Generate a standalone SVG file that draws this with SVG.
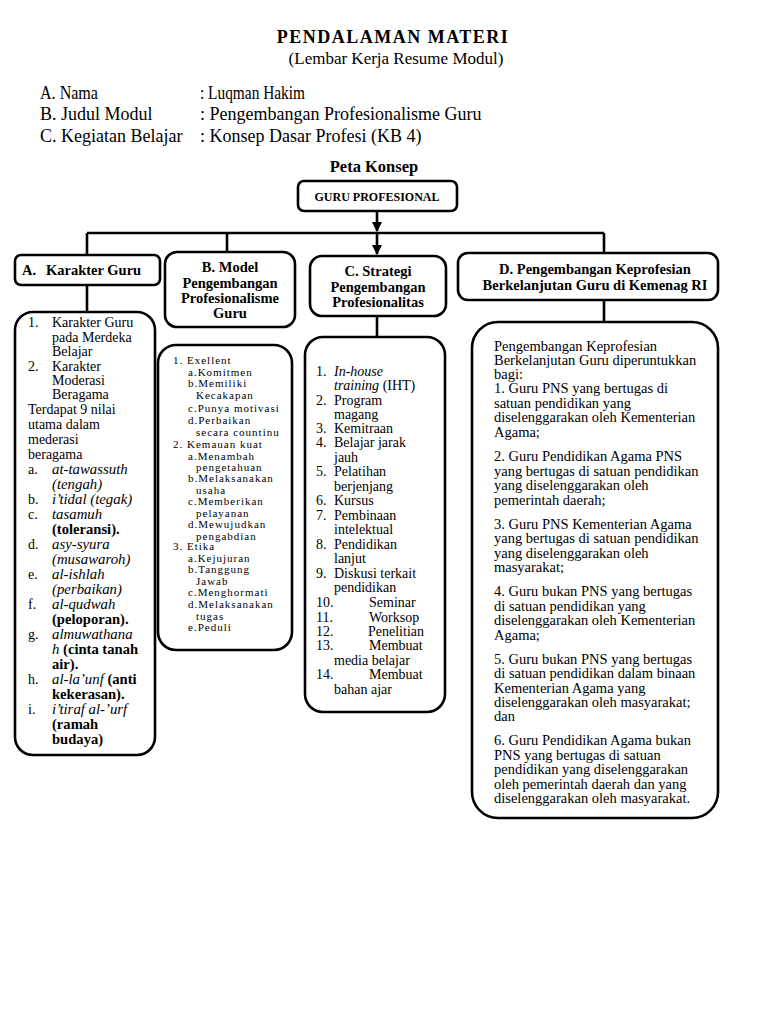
<svg xmlns="http://www.w3.org/2000/svg" width="768" height="1024" viewBox="0 0 768 1024">
<defs>
<marker id="arr" viewBox="0 0 10 10" refX="9" refY="5" markerWidth="4" markerHeight="4" orient="auto">
<path d="M0,0 L10,5 L0,10 z" fill="#000"/>
</marker>
<style>
.bg{fill:#fff}
.box{fill:#fff;stroke:#000;stroke-width:2.6}
.line{stroke:#000;stroke-width:2.6;fill:none}
.hdr{font-family:"Liberation Serif",serif;fill:#000}
.hb{font-family:"Liberation Serif",serif;font-weight:bold;fill:#000;font-size:14.5px}
.ta{font-family:"Liberation Serif",serif;font-size:14px;fill:#000}
.tb{font-family:"Liberation Serif",serif;font-size:11px;fill:#000;letter-spacing:1px}
.tc{font-family:"Liberation Serif",serif;font-size:14px;fill:#000}
.td{font-family:"Liberation Serif",serif;font-size:14.5px;fill:#000}
.i{font-style:italic;font-size:14.8px}
.b{font-weight:bold;font-size:14.6px}
.ci{font-style:italic}
</style>
</defs>
<rect class="bg" x="0" y="0" width="768" height="1024"/>

<g id="header">
<text class="hdr" x="393" y="43" font-size="18" font-weight="bold" text-anchor="middle" letter-spacing="1.5">PENDALAMAN MATERI</text>
<text class="hdr" x="396" y="64" font-size="17" text-anchor="middle">(Lembar Kerja Resume Modul)</text>
<text class="hdr" x="40" y="99" font-size="18" textLength="58" lengthAdjust="spacingAndGlyphs">A. Nama</text>
<text class="hdr" x="200" y="99" font-size="18" textLength="105" lengthAdjust="spacingAndGlyphs">: Luqman Hakim</text>
<text class="hdr" x="40" y="120" font-size="18">B. Judul Modul</text>
<text class="hdr" x="200" y="120" font-size="18">: Pengembangan Profesionalisme Guru</text>
<text class="hdr" x="40" y="142" font-size="18">C. Kegiatan Belajar</text>
<text class="hdr" x="200" y="142" font-size="18">: Konsep Dasar Profesi (KB 4)</text>
<text class="hdr" x="374" y="172" font-size="16.5" font-weight="bold" text-anchor="middle">Peta Konsep</text>
</g>

<g id="connectors">
<line class="line" x1="377" y1="211" x2="377" y2="231" marker-end="url(#arr)"/>
<line class="line" x1="87" y1="233" x2="604" y2="233"/>
<line class="line" x1="87" y1="233" x2="87" y2="255"/>
<line class="line" x1="227" y1="233" x2="227" y2="252"/>
<line class="line" x1="377" y1="233" x2="377" y2="254" marker-end="url(#arr)"/>
<line class="line" x1="604" y1="233" x2="604" y2="253"/>
<line class="line" x1="87" y1="285" x2="87" y2="312"/>
<line class="line" x1="377" y1="316" x2="377" y2="337"/>
<line class="line" x1="604" y1="300" x2="604" y2="322"/>
</g>

<g id="node-guru">
<rect class="box" x="298" y="181" width="159" height="30" rx="6"/>
<text class="hb" x="377" y="201" text-anchor="middle" style="font-size:12px">GURU PROFESIONAL</text>
</g>

<g id="node-a">
<rect class="box" x="15" y="255" width="145" height="30" rx="6"/>
<text class="hb" x="22" y="275">A.</text>
<text class="hb" x="46" y="275">Karakter Guru</text>
</g>

<g id="node-b">
<rect class="box" x="165" y="252" width="130" height="75" rx="12"/>
<text class="hb" x="230" y="272" text-anchor="middle">B. Model</text>
<text class="hb" x="230" y="288" text-anchor="middle">Pengembangan</text>
<text class="hb" x="230" y="303" text-anchor="middle">Profesionalisme</text>
<text class="hb" x="230" y="318" text-anchor="middle">Guru</text>
</g>

<g id="node-c">
<rect class="box" x="310" y="256" width="136" height="60" rx="12"/>
<text class="hb" x="378" y="276" text-anchor="middle">C. Strategi</text>
<text class="hb" x="378" y="292" text-anchor="middle">Pengembangan</text>
<text class="hb" x="378" y="307" text-anchor="middle">Profesionalitas</text>
</g>

<g id="node-d">
<rect class="box" x="458" y="253" width="260" height="47" rx="10"/>
<text class="hb" x="595" y="274" text-anchor="middle">D. Pengembangan Keprofesian</text>
<text class="hb" x="595" y="290" text-anchor="middle">Berkelanjutan Guru di Kemenag RI</text>
</g>

<g id="content-a">
<rect class="box" x="15" y="312" width="140" height="443" rx="18"/>
<g class="ta">
<text x="28" y="327">1.</text><text x="52" y="327">Karakter Guru</text>
<text x="52" y="342">pada Merdeka</text>
<text x="52" y="356">Belajar</text>
<text x="28" y="371">2.</text><text x="52" y="371">Karakter</text>
<text x="52" y="385">Moderasi</text>
<text x="52" y="399">Beragama</text>
<text x="28" y="414">Terdapat 9 nilai</text>
<text x="28" y="429">utama dalam</text>
<text x="28" y="444">mederasi</text>
<text x="28" y="459">beragama</text>
<text x="28" y="474">a.</text><text x="52" y="474" class="i">at-tawassuth</text>
<text x="52" y="489" class="i">(tengah)</text>
<text x="28" y="504">b.</text><text x="52" y="504" class="i">i’tidal (tegak)</text>
<text x="28" y="519">c.</text><text x="52" y="519" class="i">tasamuh</text>
<text x="52" y="534" class="b">(toleransi).</text>
<text x="28" y="549">d.</text><text x="52" y="549" class="i">asy-syura</text>
<text x="52" y="564" class="i">(musawaroh)</text>
<text x="28" y="579">e.</text><text x="52" y="579" class="i">al-ishlah</text>
<text x="52" y="594" class="i">(perbaikan)</text>
<text x="28" y="609">f.</text><text x="52" y="609" class="i">al-qudwah</text>
<text x="52" y="624" class="b">(peloporan).</text>
<text x="28" y="639">g.</text><text x="52" y="639" class="i">almuwathana</text>
<text x="52" y="654"><tspan class="i">h</tspan><tspan class="b"> (cinta tanah</tspan></text>
<text x="52" y="669" class="b">air).</text>
<text x="28" y="684">h.</text><text x="52" y="684"><tspan class="i">al-la’unf</tspan><tspan class="b"> (anti</tspan></text>
<text x="52" y="699" class="b">kekerasan).</text>
<text x="28" y="714">i.</text><text x="52" y="714" class="i">i’tiraf al-’urf</text>
<text x="52" y="729" class="b">(ramah</text>
<text x="52" y="744" class="b">budaya)</text>
</g>
</g>

<g id="content-b">
<rect class="box" x="158" y="345" width="134" height="305" rx="18"/>
<g class="tb">
<text x="173" y="364">1.</text><text x="187" y="364">Exellent</text>
<text x="188" y="376">a.Komitmen</text>
<text x="188" y="387">b.Memiliki</text>
<text x="196" y="399">Kecakapan</text>
<text x="188" y="412">c.Punya motivasi</text>
<text x="188" y="424">d.Perbaikan</text>
<text x="196" y="436">secara countinu</text>
<text x="173" y="448">2.</text><text x="187" y="448">Kemauan kuat</text>
<text x="188" y="460">a.Menambah</text>
<text x="196" y="471">pengetahuan</text>
<text x="188" y="482">b.Melaksanakan</text>
<text x="196" y="494">usaha</text>
<text x="188" y="505">c.Memberikan</text>
<text x="196" y="517">pelayanan</text>
<text x="188" y="528">d.Mewujudkan</text>
<text x="196" y="540">pengabdian</text>
<text x="173" y="550">3.</text><text x="187" y="550">Etika</text>
<text x="188" y="562">a.Kejujuran</text>
<text x="188" y="573">b.Tanggung</text>
<text x="196" y="585">Jawab</text>
<text x="188" y="596">c.Menghormati</text>
<text x="188" y="608">d.Melaksanakan</text>
<text x="196" y="620">tugas</text>
<text x="188" y="631">e.Peduli</text>
</g>
</g>

<g id="content-c">
<rect class="box" x="305" y="337" width="140" height="375" rx="18"/>
<g class="tc">
<text x="316" y="376">1.</text><text x="334" y="376" class="ci">In-house</text>
<text x="334" y="390"><tspan class="ci">training</tspan> (IHT)</text>
<text x="316" y="405">2.</text><text x="334" y="405">Program</text>
<text x="334" y="419">magang</text>
<text x="316" y="433">3.</text><text x="334" y="433">Kemitraan</text>
<text x="316" y="447">4.</text><text x="334" y="447">Belajar jarak</text>
<text x="334" y="462">jauh</text>
<text x="316" y="476">5.</text><text x="334" y="476">Pelatihan</text>
<text x="334" y="491">berjenjang</text>
<text x="316" y="505">6.</text><text x="334" y="505">Kursus</text>
<text x="316" y="520">7.</text><text x="334" y="520">Pembinaan</text>
<text x="334" y="534">intelektual</text>
<text x="316" y="549">8.</text><text x="334" y="549">Pendidikan</text>
<text x="334" y="563">lanjut</text>
<text x="316" y="578">9.</text><text x="334" y="578">Diskusi terkait</text>
<text x="334" y="592">pendidikan</text>
<text x="316" y="607">10.</text><text x="369" y="607">Seminar</text>
<text x="316" y="622">11.</text><text x="369" y="622">Worksop</text>
<text x="316" y="636">12.</text><text x="368" y="636">Penelitian</text>
<text x="316" y="650">13.</text><text x="369" y="650">Membuat</text>
<text x="334" y="665">media belajar</text>
<text x="316" y="679">14.</text><text x="369" y="679">Membuat</text>
<text x="334" y="694">bahan ajar</text>
</g>
</g>

<g id="content-d">
<rect class="box" x="472" y="322" width="246" height="496" rx="26"/>
<g class="td">
<text x="494" y="351">Pengembangan Keprofesian</text>
<text x="494" y="365">Berkelanjutan Guru diperuntukkan</text>
<text x="494" y="379">bagi:</text>
<text x="494" y="393">1. Guru PNS yang bertugas di</text>
<text x="494" y="408">satuan pendidikan yang</text>
<text x="494" y="422">diselenggarakan oleh Kementerian</text>
<text x="494" y="437">Agama;</text>
<text x="494" y="461">2. Guru Pendidikan Agama PNS</text>
<text x="494" y="476">yang bertugas di satuan pendidikan</text>
<text x="494" y="490">yang diselenggarakan oleh</text>
<text x="494" y="505">pemerintah daerah;</text>
<text x="494" y="529">3. Guru PNS Kementerian Agama</text>
<text x="494" y="543">yang bertugas di satuan pendidikan</text>
<text x="494" y="558">yang diselenggarakan oleh</text>
<text x="494" y="572">masyarakat;</text>
<text x="494" y="596">4. Guru bukan PNS yang bertugas</text>
<text x="494" y="611">di satuan pendidikan yang</text>
<text x="494" y="625">diselenggarakan oleh Kementerian</text>
<text x="494" y="640">Agama;</text>
<text x="494" y="664">5. Guru bukan PNS yang bertugas</text>
<text x="494" y="678">di satuan pendidikan dalam binaan</text>
<text x="494" y="693">Kementerian Agama yang</text>
<text x="494" y="707">diselenggarakan oleh masyarakat;</text>
<text x="494" y="721">dan</text>
<text x="494" y="745">6. Guru Pendidikan Agama bukan</text>
<text x="494" y="760">PNS yang bertugas di satuan</text>
<text x="494" y="774">pendidikan yang diselenggarakan</text>
<text x="494" y="789">oleh pemerintah daerah dan yang</text>
<text x="494" y="803">diselenggarakan oleh masyarakat.</text>
</g>
</g>
</svg>
